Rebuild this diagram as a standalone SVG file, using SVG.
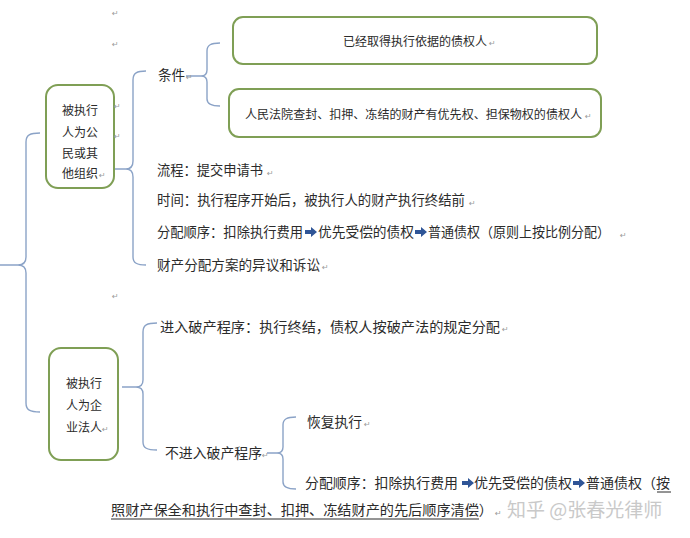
<svg xmlns="http://www.w3.org/2000/svg" width="690" height="538" viewBox="0 0 690 538">
<style>
  .t { font-family: "Noto Sans CJK SC", "Noto Sans", sans-serif; fill: #2b2b2b; }
  .b { font-size: 13.6px; }
  .s { font-size: 12px; }
  .box { fill: #ffffff; stroke: #7f9f55; stroke-width: 2; }
  .br { fill: none; stroke: #8ba3c7; stroke-width: 1.4; }
  .rt { font-family: "DejaVu Sans", sans-serif; font-size: 8px; fill: #9a9a9a; }
  .arr { fill: #2f5597; }
  .ul { stroke: #2b2b2b; stroke-width: 1; }
</style>
<rect width="690" height="538" fill="#ffffff"/>

<g id="connectors">
  <path class="br" d="M40,133 C30,133 26,135 26,142 L26,257 Q26,265 18,265 L0,265 M18,265 Q26,265 26,273 L26,403 C26,410 30,412 40,412"/>
  <path class="br" d="M146,71 C137,71 133,73 133,80 L133,161 Q133,169 126,169 L115,169 M126,169 Q133,169 133,177 L133,257 C133,263 137,265 146,265"/>
  <path class="br" d="M220,43 C211,43 207,45 207,51 L207,70 Q207,76 201,76 L186,76 M201,76 Q207,76 207,82 L207,99 C207,104 211,106 220,106"/>
  <path class="br" d="M157,323 C147,323 143,325 143,332 L143,380 Q143,387 136,387 L122,387 M136,387 Q143,387 143,394 L143,442 C143,448 147,450 157,450"/>
  <path class="br" d="M296,417 C287,417 283,419 283,425 L283,447 Q283,453 277,453 L267,453 M277,453 Q283,453 283,459 L283,482 C283,487 287,489 296,489"/>
</g>

<g id="node-civil">
  <rect class="box" x="46" y="85" width="68" height="103" rx="12"/>
  <text class="t s" x="80" y="115" text-anchor="middle">被执行</text>
  <text class="t s" x="80" y="137" text-anchor="middle">人为公</text>
  <text class="t s" x="80" y="158" text-anchor="middle">民或其</text>
  <text class="t s" x="80" y="178" text-anchor="middle">他组织</text>
  <text class="rt" x="99" y="178">↵</text>
</g>

<g id="node-corp">
  <rect class="box" x="49" y="348" width="69" height="112" rx="12"/>
  <text class="t s" x="84" y="388" text-anchor="middle">被执行</text>
  <text class="t s" x="84" y="410" text-anchor="middle">人为企</text>
  <text class="t s" x="84" y="432" text-anchor="middle">业法人</text>
  <text class="rt" x="102" y="432">↵</text>
</g>

<g id="node-cond1">
  <rect class="box" x="233" y="17" width="364" height="47" rx="10"/>
  <text class="t s" x="343" y="46" textLength="144" lengthAdjust="spacingAndGlyphs">已经取得执行依据的债权人</text>
  <text class="rt" x="489" y="46">↵</text>
</g>

<g id="node-cond2">
  <rect class="box" x="229" y="89" width="372" height="48" rx="10"/>
  <text class="t s" x="245" y="119" textLength="337" lengthAdjust="spacingAndGlyphs">人民法院查封、扣押、冻结的财产有优先权、担保物权的债权人</text>
  <text class="rt" x="585" y="119">↵</text>
</g>

<g id="node-cond">
  <text class="t b" x="158" y="80" textLength="27" lengthAdjust="spacingAndGlyphs">条件</text>
  <text class="rt" x="186" y="80">↵</text>
</g>

<g id="node-flow">
  <text class="t b" x="157" y="175" textLength="106" lengthAdjust="spacingAndGlyphs">流程：提交申请书</text>
  <text class="rt" x="267" y="176">↵</text>
</g>

<g id="node-time">
  <text class="t b" x="157" y="205" textLength="308" lengthAdjust="spacingAndGlyphs">时间：执行程序开始后，被执行人的财产执行终结前</text>
  <text class="rt" x="469" y="206">↵</text>
</g>

<g id="node-order1">
  <text class="t b" x="157" y="237" textLength="146" lengthAdjust="spacingAndGlyphs">分配顺序：扣除执行费用</text>
  <polygon class="arr" points="305,230 311,230 311,227 317,232 311,237 311,234 305,234"/>
  <text class="t b" x="318" y="237" textLength="96" lengthAdjust="spacingAndGlyphs">优先受偿的债权</text>
  <polygon class="arr" points="415,230 421,230 421,227 427,232 421,237 421,234 415,234"/>
  <text class="t b" x="428" y="237" textLength="182" lengthAdjust="spacingAndGlyphs">普通债权（原则上按比例分配）</text>
  <text class="rt" x="620" y="238">↵</text>
</g>

<g id="node-objection">
  <text class="t b" x="157" y="270" textLength="163" lengthAdjust="spacingAndGlyphs">财产分配方案的异议和诉讼</text>
  <text class="rt" x="322" y="270">↵</text>
</g>

<g id="node-bankrupt">
  <text class="t b" x="160" y="332" textLength="340" lengthAdjust="spacingAndGlyphs">进入破产程序：执行终结，债权人按破产法的规定分配</text>
  <text class="rt" x="502" y="332">↵</text>
</g>

<g id="node-nobankrupt">
  <text class="t b" x="165" y="458" textLength="97" lengthAdjust="spacingAndGlyphs">不进入破产程序</text>
  <text class="rt" x="262" y="458">↵</text>
</g>

<g id="node-resume">
  <text class="t b" x="307" y="427" textLength="55" lengthAdjust="spacingAndGlyphs">恢复执行</text>
  <text class="rt" x="364" y="427">↵</text>
</g>

<g id="node-order2">
  <text class="t" font-size="13.9" x="305" y="488" textLength="153" lengthAdjust="spacingAndGlyphs">分配顺序：扣除执行费用</text>
  <polygon class="arr" points="462,481 468,481 468,478 474,483 468,488 468,485 462,485"/>
  <text class="t" font-size="13.9" x="474" y="488" textLength="98" lengthAdjust="spacingAndGlyphs">优先受偿的债权</text>
  <polygon class="arr" points="573,481 579,481 579,478 585,483 579,488 579,485 573,485"/>
  <text class="t" font-size="13.9" x="586" y="488" textLength="84" lengthAdjust="spacingAndGlyphs">普通债权（按</text>
  <line class="ul" x1="657" y1="492" x2="671" y2="492"/>
  <text class="t" font-size="14" x="111" y="515" textLength="382" lengthAdjust="spacingAndGlyphs">照财产保全和执行中查封、扣押、冻结财产的先后顺序清偿）</text>
  <line class="ul" x1="111" y1="519" x2="479" y2="519"/>
  <text class="rt" x="495" y="516">↵</text>
</g>

<g id="marks">
  <text class="rt" x="112" y="16">↵</text>
  <text class="rt" x="112" y="47">↵</text>
  <text class="rt" x="114" y="109">↵</text>
  <text class="rt" x="114" y="139">↵</text>
  <text class="rt" x="112" y="299">↵</text>
</g>

<text x="507" y="517" font-family="Noto Sans CJK SC, sans-serif" font-size="19" fill="#c9c9c9">知乎 @张春光律师</text>
</svg>
